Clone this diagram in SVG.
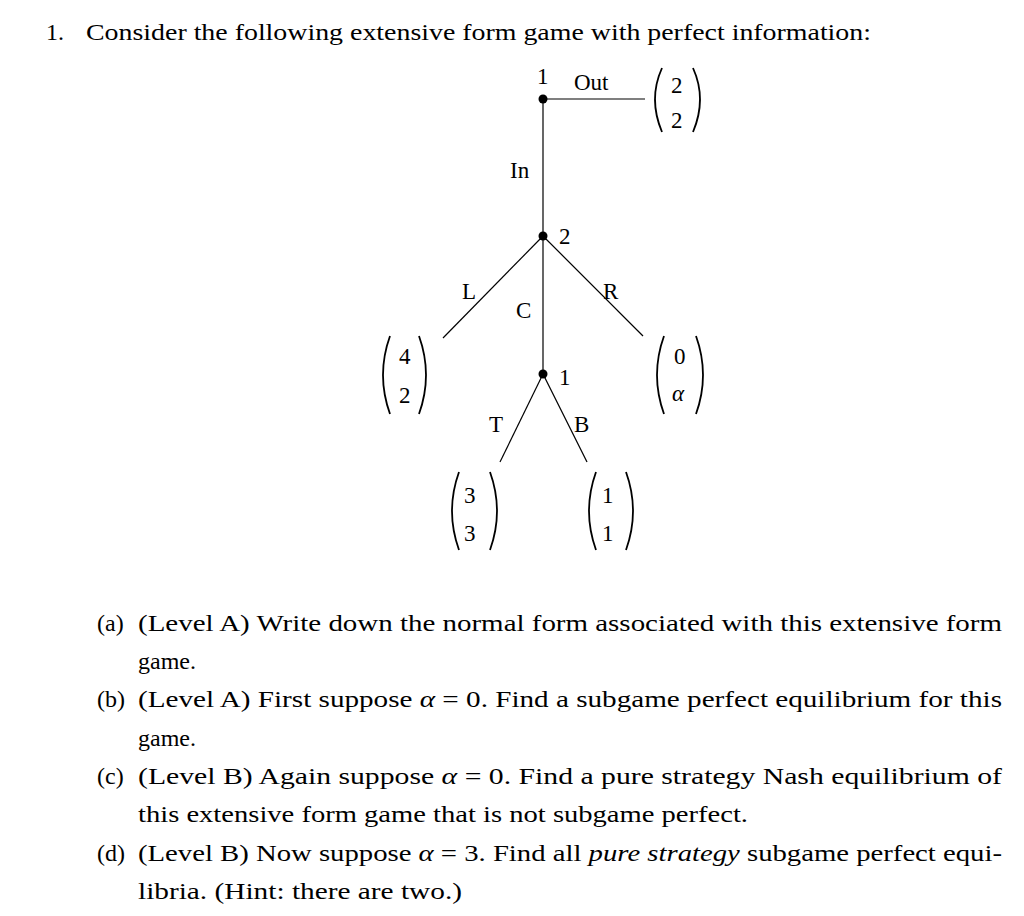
<svg xmlns="http://www.w3.org/2000/svg" width="1024" height="916" viewBox="0 0 1024 916">
<style>
text{font-family:"Liberation Serif","DejaVu Serif",serif;font-size:24px;fill:#000}
.s{font-size:23px}
.l{font-size:23px}
.e{stroke:#000;stroke-width:1.2;fill:none}
.p{stroke:#000;stroke-width:1.8;fill:none}
</style>
<rect width="1024" height="916" fill="#fff"/>
<text x="46" y="40">1.</text>
<text x="86" y="40" textLength="785" lengthAdjust="spacingAndGlyphs">Consider the following extensive form game with perfect information:</text>
<g id="connectors">
<line class="e" x1="543" y1="99" x2="645" y2="99"/>
<line class="e" x1="543" y1="99" x2="543" y2="374"/>
<line class="e" x1="543" y1="236" x2="443" y2="338"/>
<line class="e" x1="543" y1="236" x2="643" y2="336"/>
<line class="e" x1="543" y1="374" x2="500" y2="462"/>
<line class="e" x1="543" y1="374" x2="587" y2="462"/>
<text x="510" y="178" class="l">In</text>
<text x="462" y="299" class="l">L</text>
<text x="603" y="299" class="l">R</text>
<text x="516" y="318" class="l">C</text>
<text x="489" y="432" class="l">T</text>
<text x="574" y="432" class="l">B</text>
<text x="574" y="90" class="l">Out</text>
</g>
<g id="n1"><circle cx="543" cy="99" r="4.5"/><text x="537" y="84" class="l">1</text></g>
<g id="n2"><circle cx="543" cy="236" r="4.5"/><text x="559" y="244" class="l">2</text></g>
<g id="n3"><circle cx="543" cy="374" r="4.5"/><text x="559" y="385" class="l">1</text></g>
<g id="pOut"><path class="p" d="M662,68 Q648,99 662,132"/><path class="p" d="M693,68 Q707,99 693,132"/><text x="671" y="93" class="s">2</text><text x="671" y="128" class="s">2</text></g>
<g id="pL"><path class="p" d="M390,336 Q376,375 390,414"/><path class="p" d="M419,336 Q433,375 419,414"/><text x="399" y="364" class="s">4</text><text x="399" y="403" class="s">2</text></g>
<g id="pR"><path class="p" d="M664,336 Q650,375 664,414"/><path class="p" d="M696,336 Q710,375 696,414"/><text x="674" y="364" class="s">0</text><text x="672" y="401" class="s" font-style="italic">α</text></g>
<g id="pT"><path class="p" d="M459,472 Q445,511 459,550"/><path class="p" d="M490,472 Q504,511 490,550"/><text x="464" y="503" class="s">3</text><text x="464" y="541" class="s">3</text></g>
<g id="pB"><path class="p" d="M596,472 Q582,511 596,550"/><path class="p" d="M626,472 Q640,511 626,550"/><text x="602" y="503" class="s">1</text><text x="602" y="541" class="s">1</text></g>
<text x="97" y="631">(a)</text>
<text x="138" y="631" textLength="864" lengthAdjust="spacingAndGlyphs">(Level A) Write down the normal form associated with this extensive form</text>
<text x="138" y="669">game.</text>
<text x="97" y="707">(b)</text>
<text x="138" y="707" textLength="864" lengthAdjust="spacingAndGlyphs">(Level A) First suppose <tspan font-style="italic">α</tspan> = 0. Find a subgame perfect equilibrium for this</text>
<text x="138" y="746">game.</text>
<text x="97" y="784">(c)</text>
<text x="138" y="784" textLength="864" lengthAdjust="spacingAndGlyphs">(Level B) Again suppose <tspan font-style="italic">α</tspan> = 0. Find a pure strategy Nash equilibrium of</text>
<text x="138" y="822" textLength="610" lengthAdjust="spacingAndGlyphs">this extensive form game that is not subgame perfect.</text>
<text x="97" y="861">(d)</text>
<text x="138" y="861" textLength="864" lengthAdjust="spacingAndGlyphs">(Level B) Now suppose <tspan font-style="italic">α</tspan> = 3. Find all <tspan font-style="italic">pure strategy</tspan> subgame perfect equi-</text>
<text x="138" y="899" textLength="324" lengthAdjust="spacingAndGlyphs">libria. (Hint: there are two.)</text>
</svg>
